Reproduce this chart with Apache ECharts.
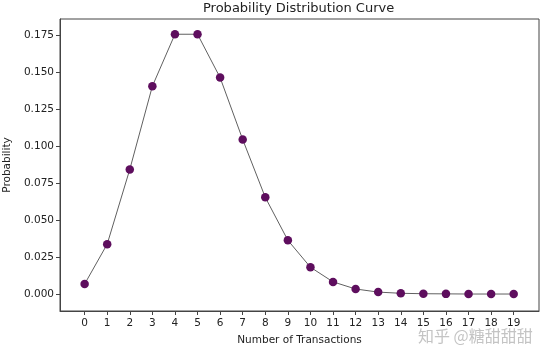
<!DOCTYPE html>
<html><head><meta charset="utf-8">
<script src="https://cdn.jsdelivr.net/npm/echarts@6/dist/echarts.min.js"></script>
<style>html,body{margin:0;padding:0;background:#fff}#c{width:552px;height:361px}</style>
</head><body><div id="c"></div>
<script>
const categories = [0,1,2,3,4,5,6,7,8,9,10,11,12,13,14,15,16,17,18,19];
const probability = [0.0067,0.0337,0.0842,0.1404,0.1755,0.1755,0.1462,0.1044,0.0653,0.0363,0.0181,0.0082,0.0034,0.0013,0.0005,0.0002,0.0001,0.0000,0.0000,0.0000];
const yTicks = [0,0.025,0.05,0.075,0.1,0.125,0.15,0.175];

const chart = echarts.init(document.getElementById('c'), null, {renderer:'canvas'});
const font = 'DejaVu Sans';
chart.setOption({
  animation:false,
  title:{text:'Probability Distribution Curve', left:198, top:-3,
    textStyle:{fontFamily:font, fontSize:13, fontWeight:'normal', color:'#222'}},
  grid:{left:60, top:19, width:479, height:292, show:true, borderColor:'#444', borderWidth:1, backgroundColor:'transparent',
    containLabel:false, outerBoundsMode:'none'},
  xAxis:{type:'value', min:-1.09, max:20.12,
    name:'Number of Transactions', nameLocation:'middle', nameGap:24,
    nameTextStyle:{fontFamily:font, fontSize:10.5, color:'#222'},
    axisLine:{show:true, onZero:false, lineStyle:{color:'#444'}},
    axisTick:{show:true, length:4, lineStyle:{color:'#444'}, customValues:categories},
    axisLabel:{fontFamily:font, fontSize:10.5, color:'#222', margin:7, customValues:categories},
    splitLine:{show:false}},
  yAxis:{type:'value', min:-0.01147, max:0.1858,
    name:'Probability', nameLocation:'middle', nameGap:45,
    nameTextStyle:{fontFamily:font, fontSize:10.5, color:'#222'},
    axisLine:{show:true, onZero:false, lineStyle:{color:'#444'}},
    axisTick:{show:true, length:4, lineStyle:{color:'#444'}, customValues:yTicks},
    axisLabel:{fontFamily:font, fontSize:10.5, color:'#222', margin:6, customValues:yTicks,
      formatter:v=>v.toFixed(3)},
    splitLine:{show:false}},
  series:[{type:'line', data:categories.map((c,i)=>[c, probability[i]]),
    symbol:'circle', symbolSize:8.5,
    lineStyle:{color:'#606060', width:1},
    itemStyle:{color:'#5e0e5e'}}],
  graphic:[{type:'text', left:418, top:328,
    style:{text:'知乎 @糖甜甜甜', font:'16px "Noto Sans CJK SC"', fill:'#c4c4c4'}}]
});
</script></body></html>
